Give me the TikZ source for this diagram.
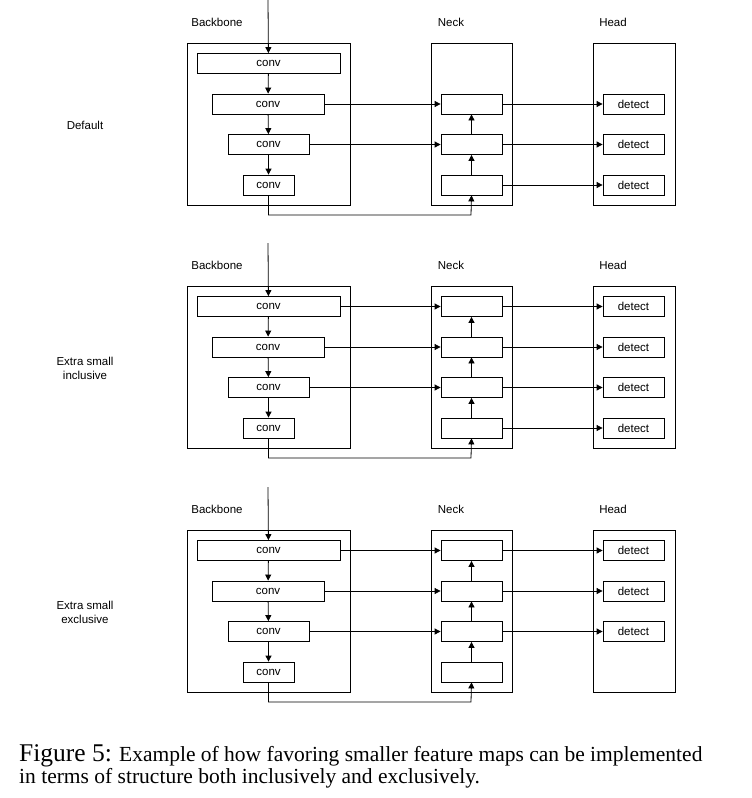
\documentclass[tikz,border=0pt]{standalone}
\usepackage{fontspec}
\setmainfont{Liberation Sans}
\newfontfamily\capfont{Liberation Serif}
\usetikzlibrary{arrows.meta}
\begin{document}
\begin{tikzpicture}[x=1pt,y=-1pt,
  box/.style={draw,thick,minimum height=20pt,inner sep=0pt,font=\fontsize{11.5}{13}\selectfont},
  cont/.style={draw,thick},
  lbl/.style={font=\fontsize{11.5}{14}\selectfont},
  arr/.style={thick,-{Triangle[length=6pt,width=6pt]}}]
\useasboundingbox (0,0) rectangle (752,798);
\foreach \p/\oy/\side/\nn/\nd in {1/0/Default/3/3, 2/243/{Extra small\\inclusive}/4/4, 3/487/{Extra small\\exclusive}/4/3}{
  \begin{scope}[yshift=-\oy pt]
  \node[lbl] (bl\p) at (217,22) {Backbone};
  \node[lbl] (nl\p) at (451,22) {Neck};
  \node[lbl] (hl\p) at (613,22) {Head};
  \node[lbl,align=center] (sl\p) at (85,125) {\side};
  \node[cont,minimum width=163pt,minimum height=162pt,inner sep=0pt] (bb\p) at (268.5,124) {};
  \node[cont,minimum width=81pt,minimum height=162pt,inner sep=0pt] (nk\p) at (471.5,124) {};
  \node[cont,minimum width=82pt,minimum height=162pt,inner sep=0pt] (hd\p) at (634,124) {};
  \coordinate (in\p) at (268,0);
  \node[box,minimum width=143pt] (c1\p) at (268.5,63.5) {conv};
  \node[box,minimum width=112pt] (c2\p) at (268,104) {conv};
  \node[box,minimum width=81pt] (c3\p) at (268.5,144.5) {conv};
  \node[box,minimum width=51pt] (c4\p) at (268.5,185) {conv};
  \draw[arr] (in\p) -- (c1\p);
  \draw[arr] (c1\p) -- (c2\p);
  \draw[arr] (c2\p) -- (c3\p);
  \draw[arr] (c3\p) -- (c4\p);
  \end{scope}
}
% Panel 1
\foreach \i/\y in {1/104,2/144.5,3/185}{
  \node[box,minimum width=61pt] (n\i1) at (471.5,\y) {};
  \node[box,minimum width=61pt] (d\i1) at (633.5,\y) {detect};
  \draw[arr] (n\i1) -- (d\i1);
}
\draw[arr] (c21) -- (n11);
\draw[arr] (c31) -- (n21);
\draw[arr] (n31) -- (n21);
\draw[arr] (n21) -- (n11);
\draw[arr] (c41.south) |- (471,215) -- (n31.south);
% Panel 2 and 3
\foreach \p/\oy/\nd in {2/243/4,3/487/3}{
  \begin{scope}[yshift=-\oy pt]
  \foreach \i/\y in {1/63.5,2/104,3/144.5,4/185}{
    \node[box,minimum width=61pt] (n\i\p) at (471.5,\y) {};
  }
  \foreach \i/\y in {1/63.5,2/104,3/144.5,4/185}{
    \ifnum\i>\nd\else
      \node[box,minimum width=61pt] (d\i\p) at (633.5,\y) {detect};
      \draw[arr] (n\i\p) -- (d\i\p);
    \fi
  }
  \draw[arr] (c1\p) -- (n1\p);
  \draw[arr] (c2\p) -- (n2\p);
  \draw[arr] (c3\p) -- (n3\p);
  \draw[arr] (n4\p) -- (n3\p);
  \draw[arr] (n3\p) -- (n2\p);
  \draw[arr] (n2\p) -- (n1\p);
  \draw[arr] (c4\p.south) |- (471,215) -- (n4\p.south);
  \end{scope}
}
\node[anchor=base west,inner sep=0pt,font=\capfont\fontsize{21.5}{22}\selectfont,align=left] (cap) at (19,783)
  {{\fontsize{25.5}{22}\selectfont Figure 5:} Example of how favoring smaller feature maps can be implemented\\in terms of structure both inclusively and exclusively.};
\end{tikzpicture}
\end{document}
